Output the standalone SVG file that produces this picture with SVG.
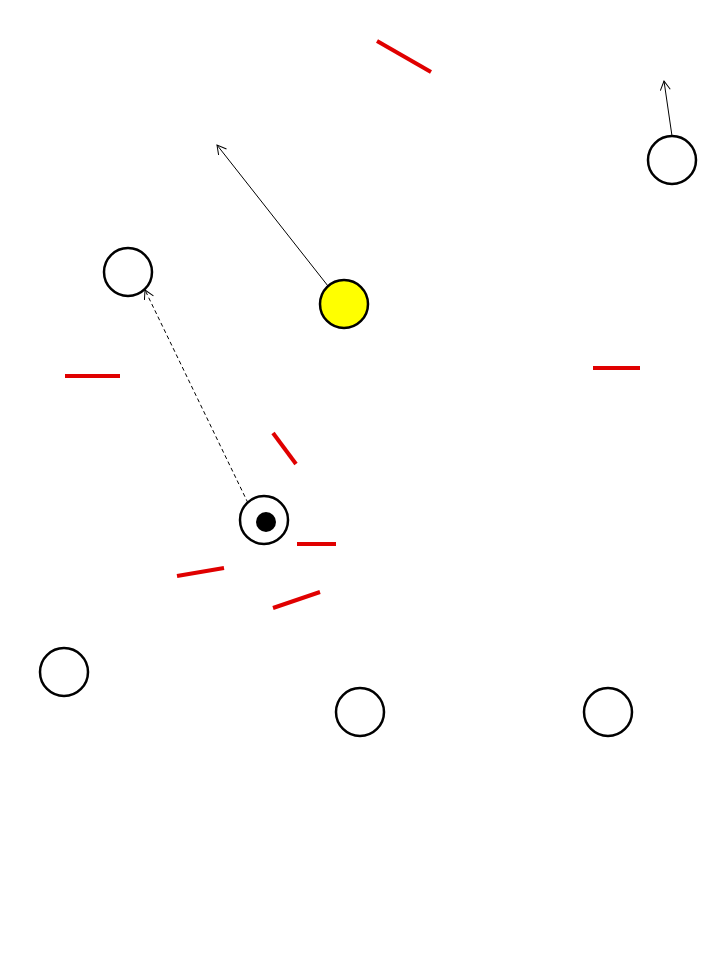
<svg xmlns="http://www.w3.org/2000/svg" width="720" height="960" viewBox="0 0 720 960">
<style>
.n{fill:#fff;stroke:#000;stroke-width:2.5}
.y{fill:#ffff00;stroke:#000;stroke-width:2.5}
.c{stroke:#000;stroke-width:1;fill:none;marker-end:url(#a)}
.d{stroke-dasharray:4 3}
.r{stroke:#e00000;stroke-width:4;stroke-linecap:butt}
</style>
<defs>
<marker id="a" markerWidth="12" markerHeight="12" refX="10" refY="5" orient="auto" markerUnits="userSpaceOnUse">
<path d="M1,0 L10,5 L1,10" fill="none" stroke="#000" stroke-width="1"/>
</marker>
</defs>
<rect width="720" height="960" fill="#fff"/>
<g id="connectors">
<line class="c" x1="328" y1="286" x2="217" y2="145"/>
<line class="c" x1="672" y1="136" x2="664" y2="81"/>
<line class="c d" x1="248" y1="503" x2="145" y2="290"/>
</g>
<g id="marks">
<line class="r" x1="377" y1="41" x2="431" y2="72"/>
<line class="r" x1="65" y1="376" x2="120" y2="376"/>
<line class="r" x1="593" y1="368" x2="640" y2="368"/>
<line class="r" x1="273" y1="433" x2="296" y2="464"/>
<line class="r" x1="297" y1="544" x2="336" y2="544"/>
<line class="r" x1="177" y1="576" x2="224" y2="568"/>
<line class="r" x1="273" y1="608" x2="320" y2="592"/>
</g>
<g id="n1"><circle class="n" cx="128" cy="272" r="24"/></g>
<g id="n2"><circle class="n" cx="672" cy="160" r="24"/></g>
<g id="n3"><circle class="y" cx="344" cy="304" r="24"/></g>
<g id="n4"><circle class="n" cx="264" cy="520" r="24"/><circle cx="266" cy="522" r="10" fill="#000"/></g>
<g id="n5"><circle class="n" cx="64" cy="672" r="24"/></g>
<g id="n6"><circle class="n" cx="360" cy="712" r="24"/></g>
<g id="n7"><circle class="n" cx="608" cy="712" r="24"/></g>
</svg>
